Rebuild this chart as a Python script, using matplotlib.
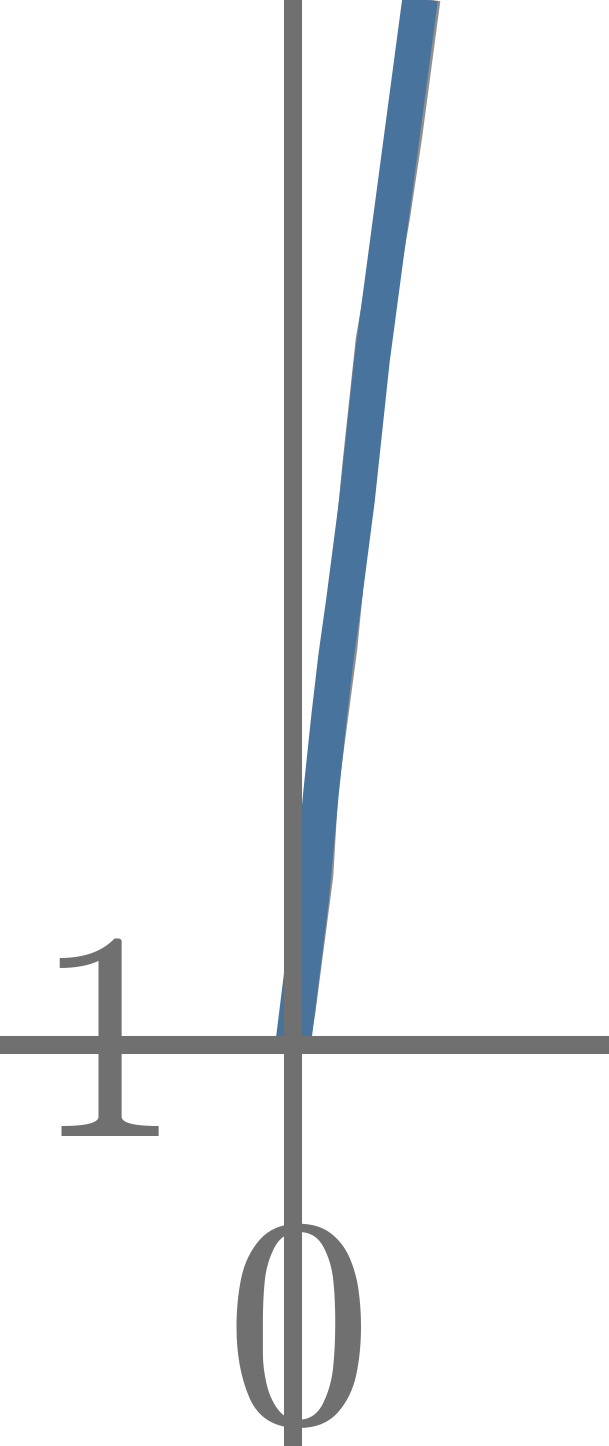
import matplotlib
matplotlib.use("Agg")
import matplotlib.pyplot as plt
from matplotlib.transforms import ScaledTranslation

plt.rcParams['mathtext.fontset'] = 'cm'

# fitted curve (blue) and raw series (grey)
blue_x = [0.0, 0.18, 0.28, 0.36, 0.43, 0.51, 0.64, 0.79, 0.87, 1.27, 1.31]
blue_y = [1.0, 2.45, 3.52, 4.28, 4.88, 5.45, 6.45, 7.85, 8.45, 11.45, 11.75]
grey_x = [0.0, 0.06, 0.24, 0.29, 0.48, 0.66, 0.79, 1.01, 1.13, 1.35]
grey_y = [1.0, 1.33, 2.70, 3.55, 4.97, 6.83, 8.05, 9.30, 10.10, 11.75]
x_ticks = [0]
y_ticks = [1]

axis_col = '#707070'

fig = plt.figure(figsize=(6.09, 14.46), dpi=100)
ax = fig.add_axes([0, 0, 1, 1])

ax.plot(grey_x, grey_y, color='#8f8f8f', linewidth=23.5, solid_capstyle='butt',
        solid_joinstyle='miter', zorder=1)
ax.plot(blue_x, blue_y, color='#48739c', linewidth=25.6, solid_capstyle='butt',
        solid_joinstyle='round', zorder=1.5)

ax.set_xlim(-2.93, 3.16)
ax.set_ylim(-3.01, 11.45)

for side in ['top', 'right']:
    ax.spines[side].set_visible(False)
ax.spines['left'].set_position(('data', 0))
ax.spines['bottom'].set_position(('data', 1))
for side in ['left', 'bottom']:
    ax.spines[side].set_color(axis_col)
    ax.spines[side].set_linewidth(13)
    ax.spines[side].set_capstyle('butt')

ax.set_xticks(x_ticks)
ax.set_yticks(y_ticks)
ax.set_xticklabels([f'${v}$' for v in x_ticks])
ax.set_yticklabels([f'${v}$' for v in y_ticks])
ax.tick_params(axis='both', length=0, labelsize=213, labelcolor=axis_col)
ax.tick_params(axis='y', pad=96)
ax.tick_params(axis='x', pad=109)
# nudge the "1" up a little, like the reference
shift = ScaledTranslation(0, 0.22, fig.dpi_scale_trans)
for lab in ax.get_yticklabels():
    lab.set_transform(lab.get_transform() + shift)
ax.patch.set_visible(False)

fig.savefig('out.png', dpi=100, facecolor='white')
